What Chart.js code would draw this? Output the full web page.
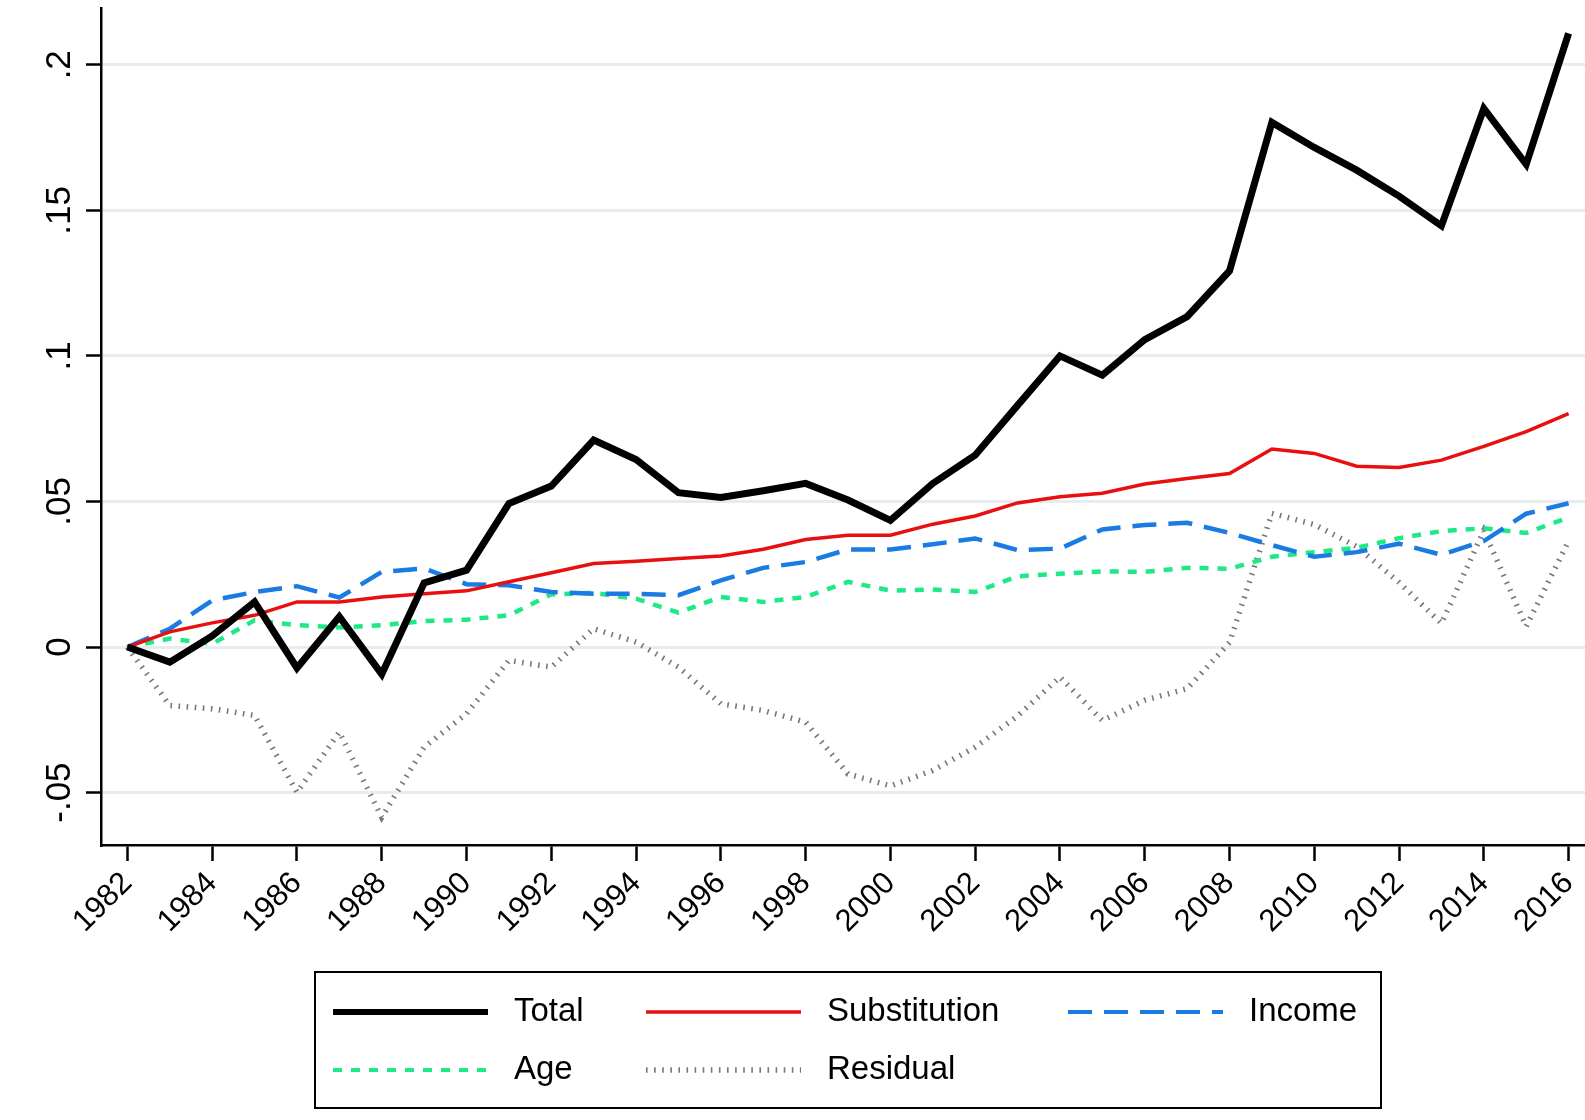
<!DOCTYPE html>
<html>
<head>
<meta charset="utf-8">
<title>Decomposition</title>
<script src="https://cdn.jsdelivr.net/npm/chart.js@4.4.1/dist/chart.umd.min.js"></script>
<style>
    body { margin: 0; background: #fff; }
    #chartCanvas { display: block; }
</style>
</head>
<body>
<canvas id="chartCanvas" width="1585" height="1120"></canvas>
<script>
const years = [1982, 1983, 1984, 1985, 1986, 1987, 1988, 1989, 1990, 1991, 1992, 1993, 1994, 1995, 1996, 1997, 1998, 1999,
    2000, 2001, 2002, 2003, 2004, 2005, 2006, 2007, 2008, 2009, 2010, 2011, 2012, 2013, 2014, 2015, 2016];

const total = [0, -0.0052, 0.0038, 0.0155, -0.0072, 0.0104, -0.0093, 0.022, 0.0264, 0.0493, 0.0553, 0.0711, 0.0644, 0.053,
    0.0514, 0.0537, 0.0562, 0.0505, 0.0435, 0.0562, 0.0659, 0.083, 0.1, 0.0934, 0.1056, 0.1135, 0.1292, 0.1802, 0.1716,
    0.1638, 0.1549, 0.1447, 0.185, 0.1658, 0.2108];
const substitution = [0, 0.0052, 0.0083, 0.0109, 0.0155, 0.0155, 0.0172, 0.0183, 0.0193, 0.0224, 0.0255, 0.0287, 0.0295,
    0.0304, 0.0313, 0.0336, 0.0369, 0.0384, 0.0384, 0.0422, 0.045, 0.0495, 0.0516, 0.0528, 0.056, 0.0579, 0.0596, 0.068,
    0.0665, 0.0621, 0.0617, 0.0642, 0.0689, 0.074, 0.0802];
const income = [0, 0.0063, 0.016, 0.0189, 0.0209, 0.017, 0.0258, 0.027, 0.0216, 0.0212, 0.0189, 0.0183, 0.0183, 0.0178,
    0.0229, 0.0272, 0.0292, 0.0335, 0.0335, 0.0353, 0.0373, 0.0333, 0.0338, 0.0404, 0.0419, 0.0427, 0.0392, 0.035, 0.031,
    0.0326, 0.0355, 0.0317, 0.0364, 0.0458, 0.0494];
const age = [0, 0.0029, 0.0011, 0.0092, 0.0075, 0.0067, 0.0075, 0.0089, 0.0094, 0.0109, 0.0181, 0.0186, 0.0166, 0.0118,
    0.0172, 0.0155, 0.0172, 0.0224, 0.0194, 0.0198, 0.0189, 0.0243, 0.0252, 0.026, 0.0258, 0.0272, 0.0269, 0.031, 0.0326,
    0.0341, 0.0374, 0.0398, 0.0408, 0.0392, 0.0445];
const residual = [0, -0.0201, -0.0212, -0.0235, -0.0499, -0.0292, -0.0585, -0.0344, -0.0229, -0.0046, -0.0069, 0.0063,
    0.0017, -0.0069, -0.0195, -0.0218, -0.0258, -0.0436, -0.0477, -0.0424, -0.0344, -0.0237, -0.0103, -0.0252, -0.0183,
    -0.0143, 0.0015, 0.0459, 0.0421, 0.0345, 0.0222, 0.0081, 0.04, 0.0071, 0.0364];

const xTickValues = [1982, 1984, 1986, 1988, 1990, 1992, 1994, 1996, 1998, 2000, 2002, 2004, 2006, 2008, 2010, 2012, 2014, 2016];
const yTickValues = [-0.05, 0, 0.05, 0.1, 0.15, 0.2];
const yTickLabels = ['-.05', '0', '.05', '.1', '.15', '.2'];

const seriesNames = ['Total', 'Substitution', 'Income', 'Age', 'Residual'];

const fontFamily = '"Liberation Sans", Arial, Helvetica, sans-serif';

function toPoints(values) {
    return years.map((yr, i) => ({ x: yr, y: values[i] }));
}

// y labels in Stata are turned 90 degrees, so they are painted here from the scale
const yLabelsPlugin = {
    id: 'yLabels',
    afterDraw(chart) {
        const ctx = chart.ctx;
        const yScale = chart.scales.y;
        ctx.save();
        ctx.fillStyle = '#000';
        ctx.font = '35px ' + fontFamily;
        ctx.textAlign = 'center';
        ctx.textBaseline = 'middle';
        yTickValues.forEach((v, i) => {
            const py = yScale.getPixelForValue(v);
            ctx.save();
            ctx.translate(60, py);
            ctx.rotate(-Math.PI / 2);
            ctx.fillText(yTickLabels[i], 0, 0);
            ctx.restore();
        });
        ctx.restore();
    }
};

// boxed legend under the plot, 3 columns
const boxLegendPlugin = {
    id: 'boxLegend',
    afterDraw(chart) {
        const ctx = chart.ctx;
        const sampleX = [333, 646, 1068];
        const textX = [514, 827, 1249];
        const rowY = [1012, 1070];
        ctx.save();
        ctx.strokeStyle = '#000';
        ctx.lineWidth = 2;
        ctx.strokeRect(315, 972, 1066, 136);
        chart.data.datasets.forEach((ds, i) => {
            const col = i % 3;
            const row = Math.floor(i / 3);
            const y = rowY[row];
            ctx.beginPath();
            ctx.strokeStyle = ds.borderColor;
            ctx.lineWidth = ds.legendWidth || ds.borderWidth;
            ctx.setLineDash(ds.borderDash || []);
            ctx.lineCap = 'butt';
            ctx.moveTo(sampleX[col], y);
            ctx.lineTo(sampleX[col] + 155, y);
            ctx.stroke();
            ctx.setLineDash([]);
            ctx.fillStyle = '#000';
            ctx.font = '33px ' + fontFamily;
            ctx.textAlign = 'left';
            ctx.textBaseline = 'middle';
            ctx.fillText(ds.label, textX[col], y);
        });
        ctx.restore();
    }
};

function drawChart() {
    const chartCanvas = document.getElementById('chartCanvas');
    const ctx = chartCanvas.getContext('2d');

    const data = {
        datasets: [
            { label: seriesNames[0], data: toPoints(total), borderColor: '#000000', borderWidth: 7, legendWidth: 6 },
            { label: seriesNames[1], data: toPoints(substitution), borderColor: '#e8100f', borderWidth: 3.5 },
            { label: seriesNames[2], data: toPoints(income), borderColor: '#1a7be3', borderWidth: 4.5, borderDash: [24, 12], legendWidth: 4 },
            { label: seriesNames[3], data: toPoints(age), borderColor: '#1fe886', borderWidth: 4.5, borderDash: [9, 9], legendWidth: 4 },
            { label: seriesNames[4], data: toPoints(residual), borderColor: '#777777', borderWidth: 5.5, borderDash: [1.6, 6.5] }
        ]
    };
    data.datasets.forEach(ds => {
        ds.pointRadius = 0;
        ds.tension = 0;
        ds.fill = false;
        ds.borderCapStyle = 'butt';
    });

    const config = {
        type: 'line',
        data: data,
        options: {
            responsive: false,
            maintainAspectRatio: false,
            animation: false,
            layout: { padding: { left: 0, right: 0, top: 8, bottom: 160 } },
            plugins: {
                legend: { display: false },
                tooltip: { enabled: false },
                title: { display: false }
            },
            scales: {
                x: {
                    type: 'linear',
                    min: 1981.377,
                    max: 2016.387,
                    afterBuildTicks: scale => { scale.ticks = xTickValues.map(v => ({ value: v })); },
                    afterFit: scale => { scale.height = 115; scale.paddingLeft = 0; scale.paddingRight = 0; },
                    border: { color: '#000', width: 2.5 },
                    grid: { drawOnChartArea: false, drawTicks: true, tickLength: 16, tickColor: '#000', tickWidth: 2.5 },
                    ticks: {
                        autoSkip: false,
                        minRotation: 45,
                        maxRotation: 45,
                        padding: 4,
                        color: '#000',
                        font: { family: fontFamily, size: 31 },
                        callback: v => String(v)
                    }
                },
                y: {
                    type: 'linear',
                    min: -0.068,
                    max: 0.2195,
                    afterBuildTicks: scale => { scale.ticks = yTickValues.map(v => ({ value: v })); },
                    afterFit: scale => { scale.width = 101; },
                    border: { color: '#000', width: 2.5 },
                    grid: { color: '#e6eded', lineWidth: 3, drawTicks: true, tickLength: 15, tickColor: '#000', tickWidth: 2.5 },
                    ticks: { display: false }
                }
            }
        },
        plugins: [yLabelsPlugin, boxLegendPlugin]
    };

    window.myChart = new Chart(ctx, config);
}

drawChart();
</script>
</body>
</html>
